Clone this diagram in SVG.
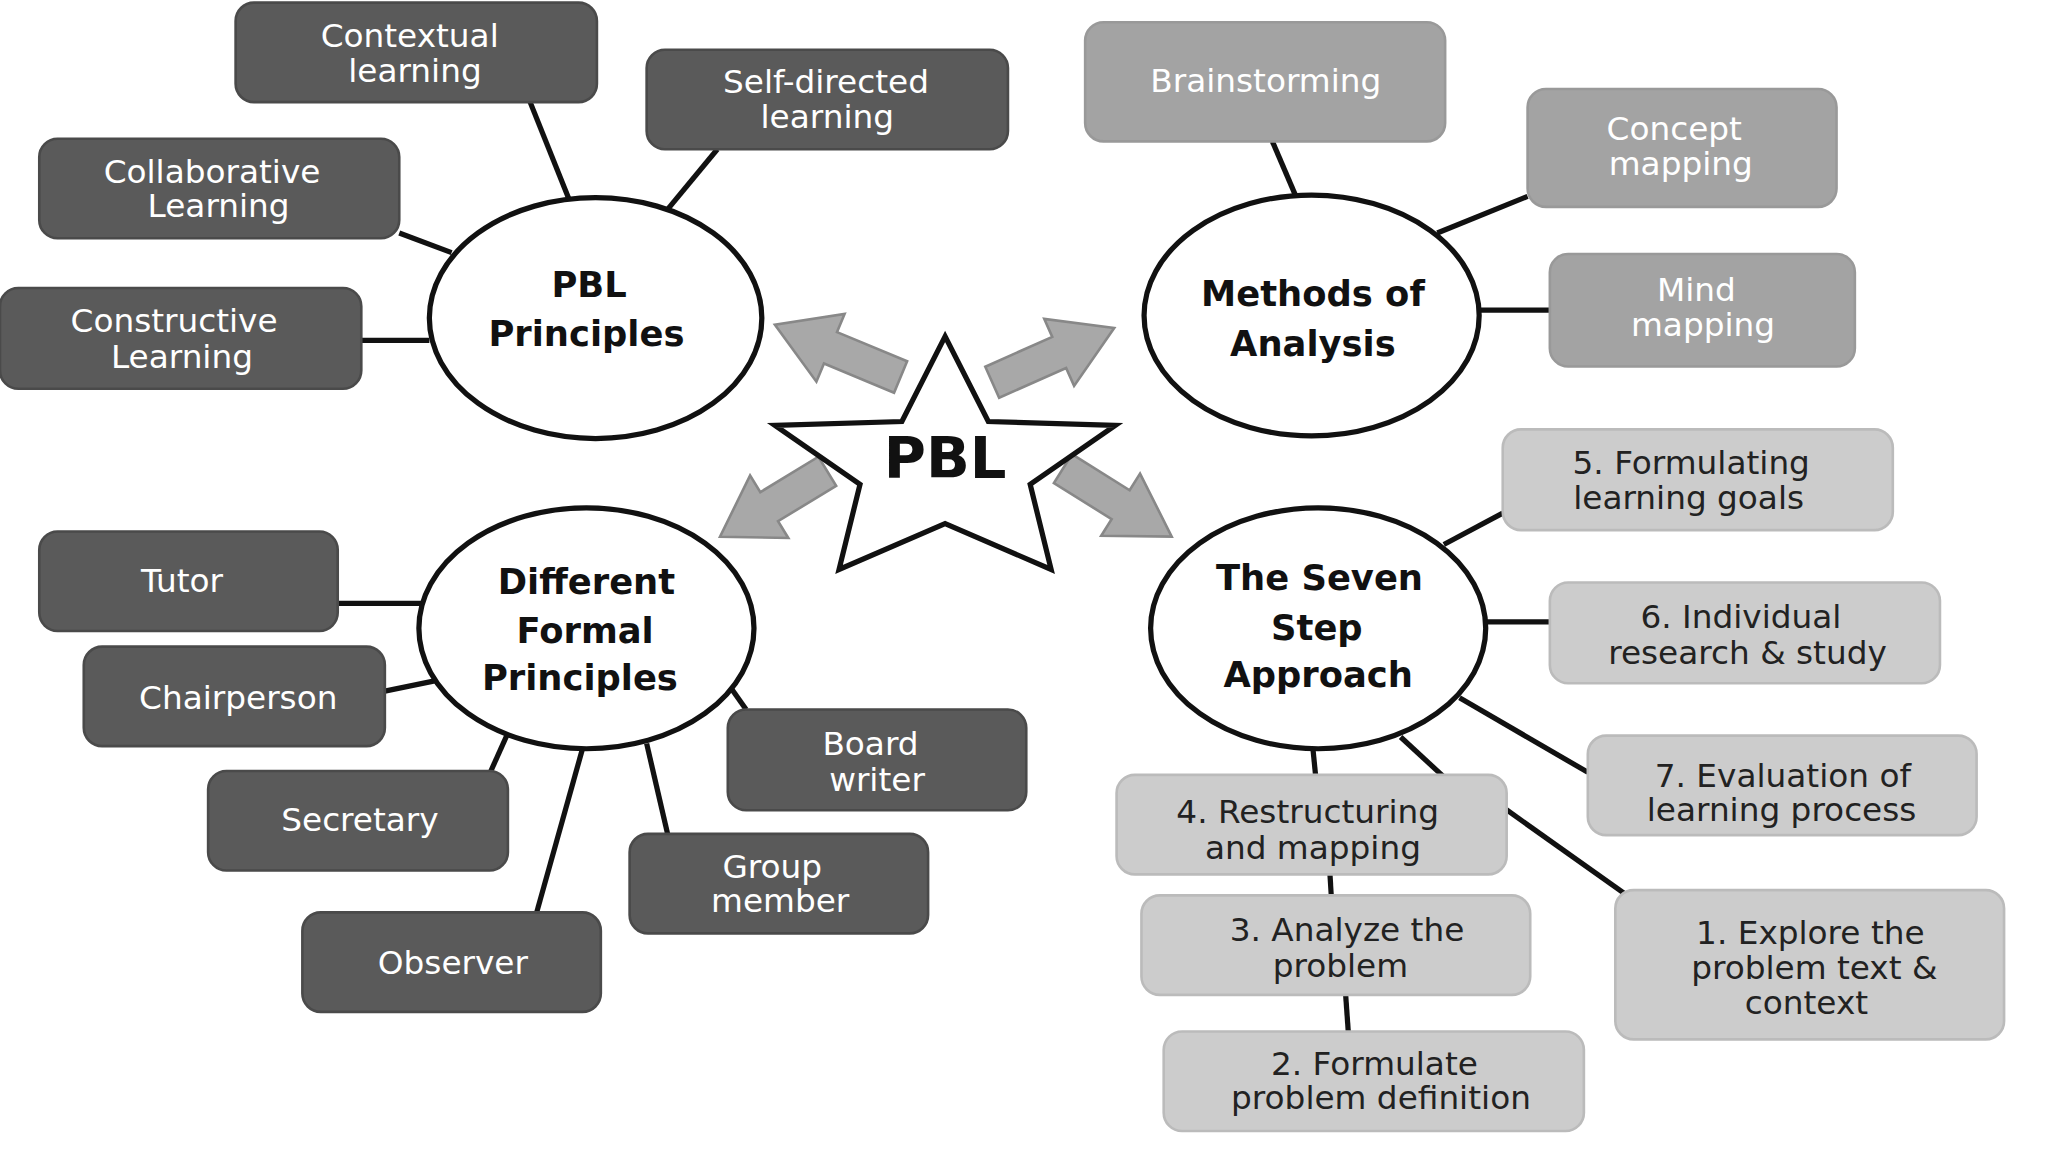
<svg xmlns="http://www.w3.org/2000/svg" width="2048" height="1152" viewBox="0 0 2048 1152">
<style>
.d{fill:#5a5a5a;stroke:#4a4a4a;stroke-width:2}
.m{fill:#a3a3a3;stroke:#999;stroke-width:2}
.l{fill:#cccccc;stroke:#bbb;stroke-width:2}
.t{font-family:"DejaVu Sans",sans-serif;font-size:25px;text-anchor:middle}
.w{fill:#fff}.k{fill:#222}
.c{fill:#fff;stroke:#111;stroke-width:4}
.ct{font-family:"DejaVu Sans",sans-serif;font-size:27px;font-weight:bold;text-anchor:middle;fill:#111}
.ln{stroke:#111;stroke-width:4;fill:none}
.ar{fill:#a8a8a8;stroke:#888;stroke-width:2}
</style>
<rect width="2048" height="1152" fill="#fff"/>
<g transform="scale(1.309 1.309)">
<g id="connectors">
<line class="ln" x1="405" y1="78" x2="435" y2="153"/>
<line class="ln" x1="548" y1="114" x2="510" y2="160"/>
<line class="ln" x1="305" y1="178" x2="345" y2="193"/>
<line class="ln" x1="276" y1="260" x2="328" y2="260"/>
<line class="ln" x1="972" y1="108" x2="990" y2="150"/>
<line class="ln" x1="1167" y1="150" x2="1098" y2="178"/>
<line class="ln" x1="1184" y1="237" x2="1130" y2="237"/>
<line class="ln" x1="258" y1="461" x2="322" y2="461"/>
<line class="ln" x1="294" y1="528" x2="333" y2="520"/>
<line class="ln" x1="375" y1="589" x2="388" y2="560"/>
<line class="ln" x1="410" y1="697" x2="445" y2="572"/>
<line class="ln" x1="510" y1="637" x2="494" y2="568"/>
<line class="ln" x1="570" y1="542" x2="558" y2="525"/>
<line class="ln" x1="1148" y1="392" x2="1103" y2="416"/>
<line class="ln" x1="1184" y1="475" x2="1135" y2="475"/>
<line class="ln" x1="1213" y1="590" x2="1115" y2="533"/>
<line class="ln" x1="1243" y1="684" x2="1150" y2="618"/>
<line class="ln" x1="1110" y1="600" x2="1070" y2="563"/>
<line class="ln" x1="1005" y1="592" x2="1003" y2="572"/>
<line class="ln" x1="1016" y1="668" x2="1017" y2="684"/>
<line class="ln" x1="1028" y1="760" x2="1030" y2="788"/>
</g>
<g id="arrows">
<polygon class="ar" transform="translate(688,288) rotate(202.6)" points="0,-13 58,-13 58,-28 104,0 58,28 58,13 0,13"/>
<polygon class="ar" transform="translate(758,292) rotate(-24)" points="0,-13 56,-13 56,-28 102,0 56,28 56,13 0,13"/>
<polygon class="ar" transform="translate(632,360) rotate(148.6)" points="0,-13 52,-13 52,-28 96,0 52,28 52,13 0,13"/>
<polygon class="ar" transform="translate(812,358) rotate(32)" points="0,-13 52,-13 52,-28 98,0 52,28 52,13 0,13"/>
</g>
<g id="pbl"><polygon points="722,257 755,322 852,325 787,370 803,435 722,400 641,435 657,370 592,325 689,322" fill="#fff" stroke="#111" stroke-width="4"/>
<text class="ct" x="722" y="365" style="font-size:44px">PBL</text></g>
<g id="principles"><ellipse class="c" cx="455" cy="243" rx="127" ry="92"/><text class="ct" x="450" y="227">PBL</text><text class="ct" x="448" y="264">Principles</text></g>
<g id="methods"><ellipse class="c" cx="1002" cy="241" rx="128" ry="92"/><text class="ct" x="1003" y="234">Methods of</text><text class="ct" x="1003" y="272">Analysis</text></g>
<g id="formal"><ellipse class="c" cx="448" cy="480" rx="128" ry="92"/><text class="ct" x="448" y="454">Different</text><text class="ct" x="447" y="491">Formal</text><text class="ct" x="443" y="527">Principles</text></g>
<g id="seven"><ellipse class="c" cx="1007" cy="480" rx="128" ry="92"/><text class="ct" x="1008" y="451">The Seven</text><text class="ct" x="1006" y="489">Step</text><text class="ct" x="1007" y="525">Approach</text></g>
<g id="n-contextual"><rect class="d" x="180" y="2" width="276" height="76" rx="14"/><text class="t w" x="313" y="36">Contextual</text><text class="t w" x="317" y="63">learning</text></g>
<g id="n-selfdirected"><rect class="d" x="494" y="38" width="276" height="76" rx="14"/><text class="t w" x="631" y="71">Self-directed</text><text class="t w" x="632" y="98">learning</text></g>
<g id="n-collab"><rect class="d" x="30" y="106" width="275" height="76" rx="14"/><text class="t w" x="162" y="140">Collaborative</text><text class="t w" x="167" y="166">Learning</text></g>
<g id="n-construct"><rect class="d" x="0" y="220" width="276" height="77" rx="14"/><text class="t w" x="133" y="254">Constructive</text><text class="t w" x="139" y="281">Learning</text></g>
<g id="n-brain"><rect class="m" x="829" y="17" width="275" height="91" rx="14"/><text class="t w" x="967" y="70">Brainstorming</text></g>
<g id="n-concept"><rect class="m" x="1167" y="68" width="236" height="90" rx="14"/><text class="t w" x="1279" y="107">Concept</text><text class="t w" x="1284" y="134">mapping</text></g>
<g id="n-mind"><rect class="m" x="1184" y="194" width="233" height="86" rx="14"/><text class="t w" x="1296" y="230">Mind</text><text class="t w" x="1301" y="257">mapping</text></g>
<g id="n-tutor"><rect class="d" x="30" y="406" width="228" height="76" rx="14"/><text class="t w" x="139" y="452">Tutor</text></g>
<g id="n-chair"><rect class="d" x="64" y="494" width="230" height="76" rx="14"/><text class="t w" x="182" y="542">Chairperson</text></g>
<g id="n-secretary"><rect class="d" x="159" y="589" width="229" height="76" rx="14"/><text class="t w" x="275" y="635">Secretary</text></g>
<g id="n-observer"><rect class="d" x="231" y="697" width="228" height="76" rx="14"/><text class="t w" x="346" y="744">Observer</text></g>
<g id="n-group"><rect class="d" x="481" y="637" width="228" height="76" rx="14"/><text class="t w" x="590" y="671">Group</text><text class="t w" x="596" y="697">member</text></g>
<g id="n-board"><rect class="d" x="556" y="542" width="228" height="77" rx="14"/><text class="t w" x="665" y="577">Board</text><text class="t w" x="670" y="604">writer</text></g>
<g id="n-s5"><rect class="l" x="1148" y="328" width="298" height="77" rx="14"/><text class="t k" x="1292" y="362">5. Formulating</text><text class="t k" x="1290" y="389">learning goals</text></g>
<g id="n-s6"><rect class="l" x="1184" y="445" width="298" height="77" rx="14"/><text class="t k" x="1330" y="480">6. Individual</text><text class="t k" x="1335" y="507">research &amp; study</text></g>
<g id="n-s7"><rect class="l" x="1213" y="562" width="297" height="76" rx="14"/><text class="t k" x="1362" y="601">7. Evaluation of</text><text class="t k" x="1361" y="627">learning process</text></g>
<g id="n-s1"><rect class="l" x="1234" y="680" width="297" height="114" rx="14"/><text class="t k" x="1383" y="721">1. Explore the</text><text class="t k" x="1386" y="748">problem text &amp;</text><text class="t k" x="1380" y="775">context</text></g>
<g id="n-s4"><rect class="l" x="853" y="592" width="298" height="76" rx="14"/><text class="t k" x="999" y="629">4. Restructuring</text><text class="t k" x="1003" y="656">and mapping</text></g>
<g id="n-s3"><rect class="l" x="872" y="684" width="297" height="76" rx="14"/><text class="t k" x="1029" y="719">3. Analyze the</text><text class="t k" x="1024" y="746">problem</text></g>
<g id="n-s2"><rect class="l" x="889" y="788" width="321" height="76" rx="14"/><text class="t k" x="1050" y="821">2. Formulate</text><text class="t k" x="1055" y="847">problem definition</text></g>
</g>
</svg>
